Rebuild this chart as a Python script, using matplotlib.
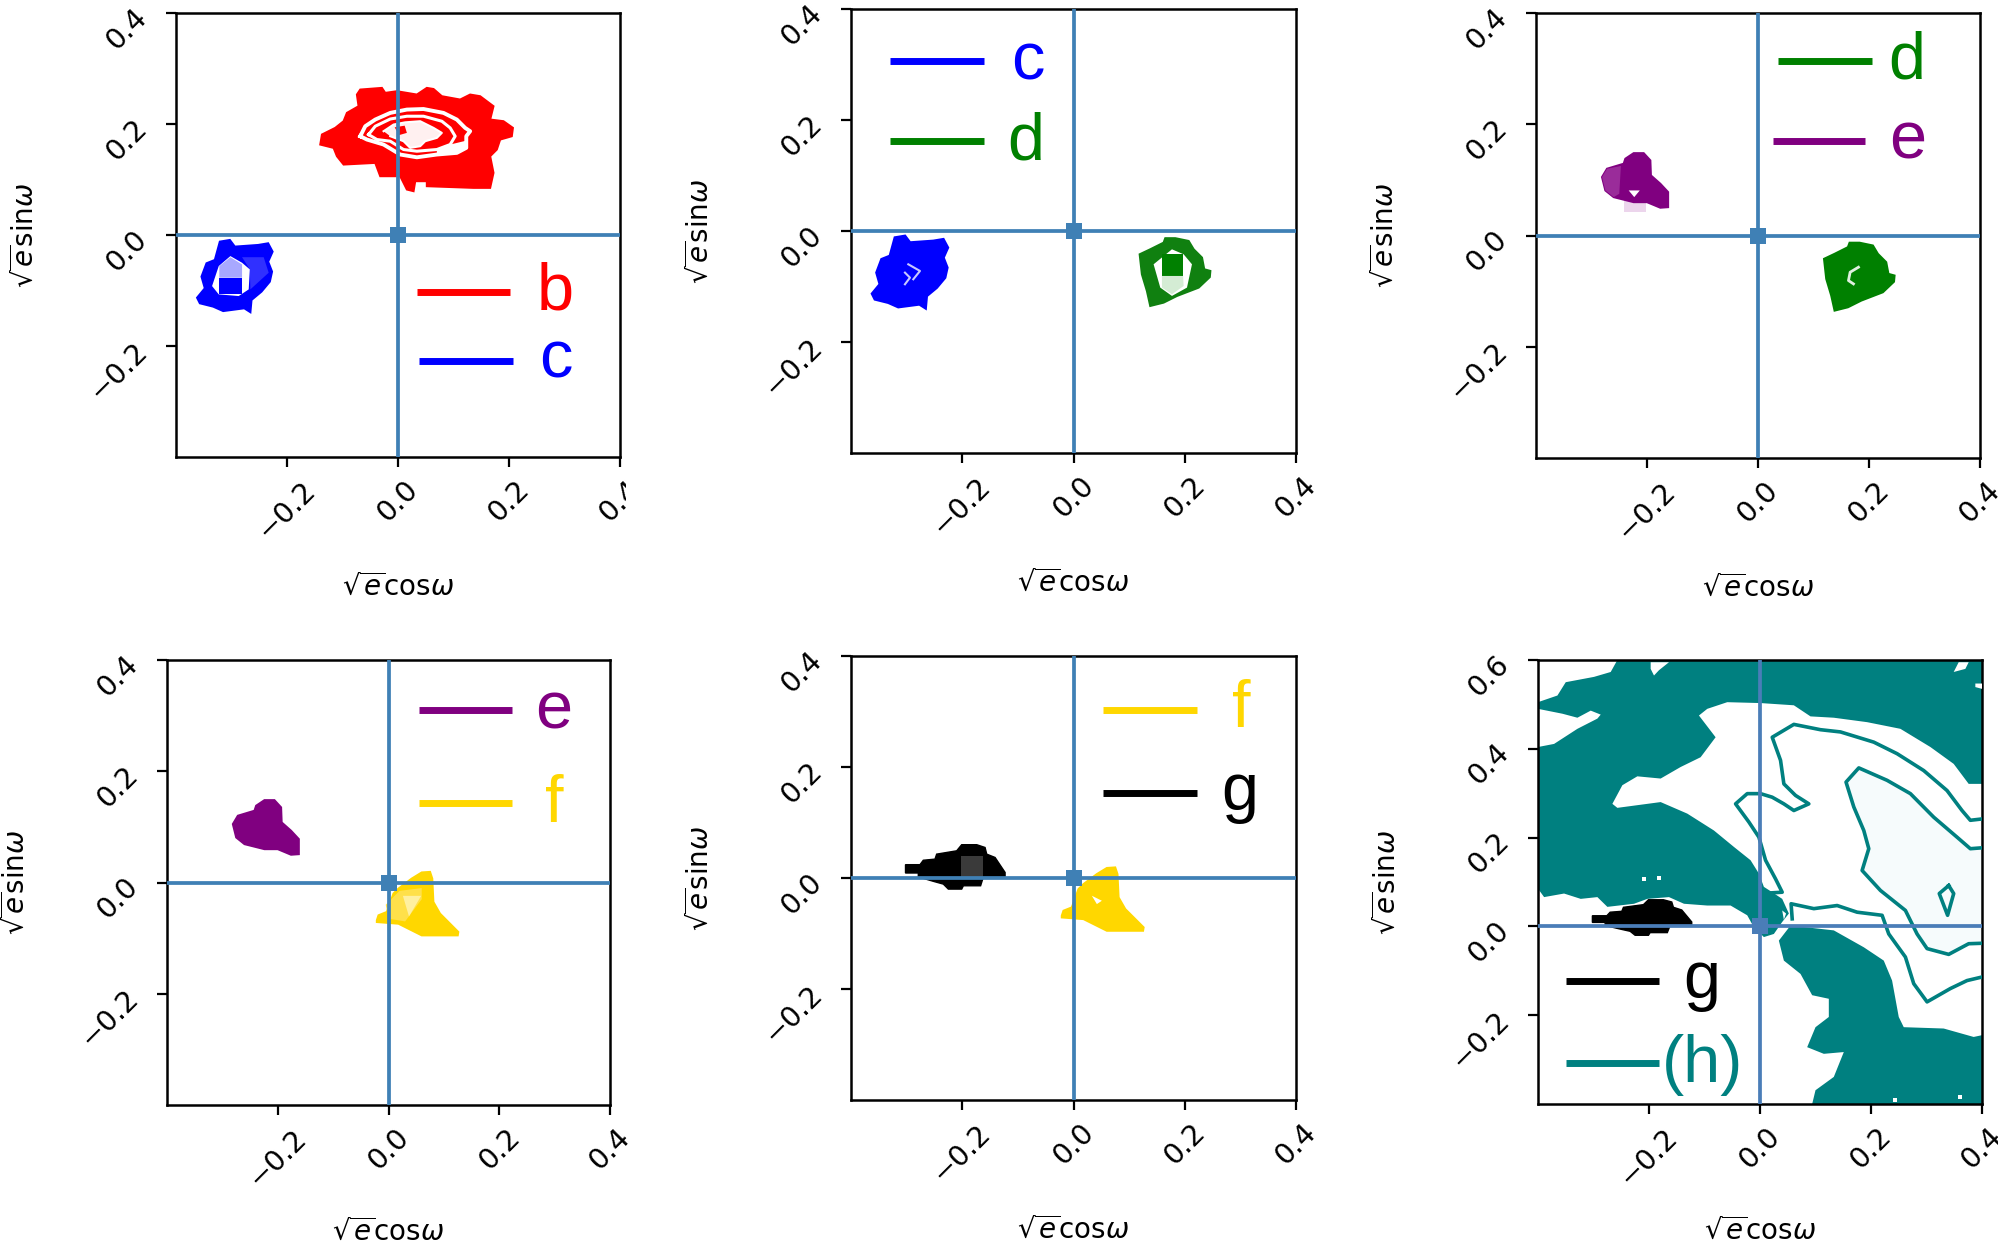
import matplotlib
matplotlib.use("Agg")
import matplotlib.pyplot as plt
from matplotlib.transforms import ScaledTranslation, Bbox
import numpy as np

# outlines of the posterior clouds (sqrt(e)cos w, sqrt(e)sin w)
b_cloud = np.array([(-0.140,0.163),(-0.137,0.181),(-0.113,0.193),(-0.098,0.205),(-0.092,0.220),(-0.071,0.232),
    (-0.074,0.253),(-0.068,0.262),(-0.029,0.265),(-0.023,0.256),(-0.002,0.259),(0.034,0.253),(0.052,0.265),
    (0.064,0.263),(0.079,0.250),(0.112,0.244),(0.130,0.253),(0.148,0.250),(0.172,0.232),(0.166,0.208),
    (0.190,0.205),(0.207,0.193),(0.205,0.178),(0.184,0.172),(0.178,0.154),(0.166,0.142),(0.172,0.112),
    (0.166,0.085),(0.136,0.085),(0.052,0.088),(0.052,0.097),(0.031,0.097),(0.028,0.079),(0.016,0.082),
    (0.004,0.106),(-0.032,0.106),(-0.041,0.130),(-0.098,0.127),(-0.110,0.142),(-0.116,0.157)])
b_ring1 = np.array([(-0.068,0.178),(-0.059,0.196),(-0.041,0.208),(-0.014,0.220),(0.016,0.226),(0.046,0.227),
    (0.082,0.220),(0.106,0.208),(0.121,0.193),(0.130,0.187),(0.123,0.178),(0.123,0.157),(0.106,0.148),
    (0.070,0.145),(0.034,0.140),(0.004,0.145),(-0.026,0.163),(-0.056,0.172),(-0.068,0.178)])
b_ring2 = np.array([(-0.053,0.181),(-0.041,0.196),(-0.014,0.209),(0.016,0.214),(0.046,0.214),(0.079,0.205),
    (0.094,0.193),(0.103,0.178),(0.094,0.163),(0.070,0.154),(0.034,0.151),(0.010,0.154),(-0.014,0.169),
    (-0.038,0.172),(-0.053,0.181)])
b_wedge = np.array([(0.123,0.170),(0.123,0.157),(0.106,0.148),(0.070,0.145),(0.070,0.154),(0.094,0.163)])
b_core = np.array([(-0.026,0.187),(-0.008,0.199),(0.013,0.203),(0.040,0.205),(0.064,0.193),(0.079,0.184),
    (0.070,0.175),(0.049,0.169),(0.040,0.160),(0.022,0.157),(0.010,0.169),(-0.014,0.178)])
b_spot = np.array([(-0.006,0.194),(0.012,0.197),(0.016,0.184),(0.002,0.180)])

c_cloud = np.array([(-0.362,-0.113),(-0.348,-0.096),(-0.354,-0.075),(-0.345,-0.051),(-0.330,-0.045),
    (-0.321,-0.012),(-0.303,-0.009),(-0.294,-0.021),(-0.252,-0.018),(-0.234,-0.015),(-0.226,-0.030),
    (-0.234,-0.048),(-0.227,-0.066),(-0.231,-0.084),(-0.246,-0.102),(-0.264,-0.117),(-0.266,-0.139),
    (-0.277,-0.132),(-0.315,-0.137),(-0.333,-0.129),(-0.357,-0.123)])
c_hex = np.array([(-0.302,-0.038),(-0.281,-0.050),(-0.267,-0.062),(-0.269,-0.098),(-0.287,-0.110),
    (-0.323,-0.107),(-0.335,-0.092),(-0.323,-0.056)])
c_pale = np.array([(-0.302,-0.040),(-0.281,-0.053),(-0.281,-0.077),(-0.322,-0.077),(-0.322,-0.056)])
c_solid = np.array([(-0.322,-0.077),(-0.281,-0.077),(-0.281,-0.107),(-0.322,-0.107)])
c_light = np.array([(-0.281,-0.040),(-0.242,-0.040),(-0.233,-0.068),(-0.266,-0.098),(-0.267,-0.062)])
c_mark1 = np.array([(-0.297,-0.060),(-0.276,-0.072),(-0.288,-0.087)])
c_mark2 = np.array([(-0.303,-0.075),(-0.294,-0.084),(-0.303,-0.096)])

d_cloud = np.array([(0.119,-0.042),(0.138,-0.033),(0.162,-0.021),(0.165,-0.013),(0.183,-0.013),(0.207,-0.018),
    (0.216,-0.033),(0.231,-0.048),(0.235,-0.069),(0.246,-0.072),(0.245,-0.083),(0.225,-0.102),(0.186,-0.117),
    (0.162,-0.129),(0.138,-0.135),(0.132,-0.108),(0.123,-0.078)])
d_shield = np.array([(0.177,-0.033),(0.198,-0.042),(0.213,-0.060),(0.204,-0.102),(0.177,-0.117),(0.156,-0.102),(0.144,-0.060)])
d_solid = np.array([(0.159,-0.042),(0.197,-0.042),(0.197,-0.081),(0.159,-0.081)])
d_pale = np.array([(0.159,-0.081),(0.197,-0.081),(0.198,-0.099),(0.177,-0.114),(0.159,-0.102)])
d_mark = np.array([(0.181,-0.057),(0.166,-0.066),(0.163,-0.081),(0.172,-0.087)])

e_cloud = np.array([(-0.281,0.105),(-0.272,0.120),(-0.242,0.129),(-0.239,0.138),(-0.224,0.148),(-0.206,0.148),
    (-0.194,0.135),(-0.193,0.108),(-0.176,0.093),(-0.162,0.078),(-0.162,0.051),(-0.176,0.050),(-0.200,0.060),
    (-0.224,0.060),(-0.260,0.069),(-0.275,0.081)])
e_light = np.array([(-0.281,0.105),(-0.272,0.120),(-0.247,0.125),(-0.250,0.075),(-0.260,0.069),(-0.275,0.081)])
e_pale = np.array([(-0.241,0.063),(-0.202,0.063),(-0.202,0.042),(-0.241,0.042)])
e_hole = np.array([(-0.233,0.081),(-0.213,0.081),(-0.223,0.069)])

f_cloud = np.array([(-0.021,-0.068),(-0.018,-0.059),(-0.003,-0.053),(0.009,-0.020),(0.018,-0.011),(0.042,0.007),
    (0.060,0.018),(0.075,0.019),(0.079,0.007),(0.081,-0.035),(0.093,-0.056),(0.114,-0.077),(0.126,-0.089),
    (0.125,-0.095),(0.060,-0.095),(0.036,-0.083),(0.018,-0.074),(-0.021,-0.071)])
f_light = np.array([(-0.005,-0.040),(0.020,-0.015),(0.060,-0.010),(0.060,-0.030),(0.030,-0.070),(0.000,-0.065)])
f_tri = np.array([(0.026,-0.024),(0.059,-0.024),(0.037,-0.061)])
f_hole = np.array([(0.033,-0.032),(0.051,-0.041),(0.042,-0.047)])

g_cloud = np.array([(-0.302,0.024),(-0.276,0.024),(-0.270,0.032),(-0.249,0.034),(-0.246,0.043),(-0.210,0.049),
    (-0.201,0.060),(-0.174,0.060),(-0.159,0.055),(-0.156,0.043),(-0.141,0.037),(-0.123,0.010),(-0.123,0.002),
    (-0.162,0.002),(-0.167,-0.014),(-0.198,-0.014),(-0.201,-0.020),(-0.225,-0.020),(-0.234,-0.011),
    (-0.252,-0.006),(-0.279,0.002),(-0.279,0.009),(-0.302,0.009)])
g_square = np.array([(-0.202,0.040),(-0.163,0.040),(-0.163,0.002),(-0.202,0.002)])

h_upper = np.array([(-0.257,0.60),(0.40,0.60),(0.40,0.321),(0.376,0.321),(0.349,0.366),(0.307,0.404),(0.253,0.445),
    (0.193,0.460),(0.133,0.470),(0.091,0.473),(0.061,0.498),(0.001,0.503),(-0.059,0.505),(-0.095,0.490),
    (-0.110,0.475),(-0.080,0.426),(-0.107,0.381),(-0.143,0.359),(-0.179,0.333),(-0.221,0.338),(-0.248,0.318),
    (-0.266,0.276),(-0.257,0.267),(-0.179,0.280),(-0.131,0.254),(-0.083,0.216),(-0.047,0.179),(-0.017,0.149),
    (-0.002,0.119),(0.007,0.089),(0.022,0.077),(0.040,0.062),(0.052,0.029),(0.040,0.010),(0.025,-0.017),
    (0.007,-0.024),(-0.011,-0.002),(-0.023,0.025),(-0.053,0.047),(-0.095,0.047),(-0.137,0.051),(-0.164,0.066),
    (-0.203,0.062),(-0.227,0.051),(-0.275,0.044),(-0.293,0.066),(-0.323,0.062),(-0.353,0.074),(-0.389,0.066),
    (-0.40,0.085),(-0.40,0.404),(-0.371,0.411),(-0.329,0.445),(-0.293,0.468),(-0.287,0.477),(-0.305,0.486),
    (-0.329,0.470),(-0.356,0.479),(-0.40,0.490),(-0.40,0.505),(-0.365,0.520),(-0.350,0.550),(-0.299,0.562),
    (-0.269,0.573)])
h_lower = np.array([(0.055,0.002),(0.133,-0.009),(0.187,-0.047),(0.223,-0.077),(0.238,-0.122),(0.250,-0.204),
    (0.259,-0.227),(0.331,-0.230),(0.385,-0.249),(0.40,-0.245),(0.40,-0.40),(0.094,-0.40),(0.100,-0.369),
    (0.133,-0.339),(0.151,-0.283),(0.115,-0.287),(0.085,-0.272),(0.100,-0.227),(0.124,-0.204),(0.124,-0.163),
    (0.094,-0.155),(0.073,-0.107),(0.043,-0.077),(0.034,-0.032)])
h_island1 = np.array([(-0.197,0.595),(-0.164,0.595),(-0.182,0.577),(-0.191,0.565),(-0.197,0.580)])
h_island2 = np.array([(0.358,0.595),(0.376,0.595),(0.370,0.580),(0.349,0.573)])
h_island3 = np.array([(0.388,0.547),(0.40,0.547),(0.40,0.535),(0.388,0.539)])
h_hole = np.array([(0.040,0.036),(0.047,0.029),(0.043,0.015)])
h_specks = np.array([(-0.209,0.106),(-0.182,0.110),(0.243,-0.390),(0.360,-0.385)])
h_line1a = np.array([(0.40,0.242),(0.379,0.239),(0.364,0.261),(0.337,0.306),(0.295,0.351),(0.247,0.389),(0.205,0.415),
    (0.145,0.438),(0.109,0.443),(0.061,0.455),(0.022,0.426),(0.037,0.374),(0.043,0.321),(0.064,0.295),(0.088,0.276),
    (0.061,0.261),(0.043,0.276),(0.022,0.291),(0.001,0.299),(-0.023,0.299),(-0.044,0.276),(-0.020,0.235),
    (-0.002,0.201),(0.010,0.149),(0.028,0.107),(0.040,0.077),(0.013,0.075)])
h_line1b = np.array([(0.058,0.017),(0.056,0.051),(0.097,0.040),(0.139,0.047),(0.175,0.032),(0.220,0.025),(0.232,-0.017),
    (0.262,-0.069),(0.277,-0.129),(0.301,-0.170),(0.343,-0.140),(0.373,-0.122),(0.40,-0.114)])
h_line2 = np.array([(0.40,0.177),(0.379,0.175),(0.355,0.201),(0.313,0.246),(0.271,0.299),(0.229,0.329),(0.178,0.357),
    (0.155,0.325),(0.169,0.269),(0.187,0.216),(0.196,0.175),(0.184,0.126),(0.217,0.081),(0.262,0.036),(0.283,-0.017),
    (0.301,-0.050),(0.340,-0.063),(0.376,-0.039),(0.40,-0.038)])
h_tear = np.array([(0.340,0.092),(0.349,0.074),(0.338,0.025),(0.323,0.074),(0.340,0.092)])

ticks = [-0.2, 0.0, 0.2, 0.4]
ticks_h = [-0.2, 0.0, 0.2, 0.4, 0.6]
tick_labels = ['\u22120.2', '0.0', '0.2', '0.4']
tick_labels_h = ['\u22120.2', '0.0', '0.2', '0.4', '0.6']

red = '#ff0000'
blue = '#0000ff'
green = '#008000'
purple = '#800080'
gold = '#ffd700'
black = '#000000'
teal = '#008080'
cross = '#3f80b5'

W, H = 1998, 1245
fig = plt.figure(figsize=(W / 100, H / 100), dpi=100)

def make_axes(left, right, top, bottom, ymax=0.4, yticks=ticks, ylabels=tick_labels, xlab_y=-0.293):
    ax = fig.add_axes([left / W, 1 - bottom / H, (right - left) / W, (bottom - top) / H])
    ax.set_xlim(-0.4, 0.4)
    ax.set_ylim(-0.4, ymax)
    ax.set_xticks(ticks)
    ax.set_xticklabels(tick_labels, rotation=45)
    ax.set_yticks(yticks)
    ax.set_yticklabels(ylabels, rotation=45, va='top')
    ax.tick_params(length=7.2, width=1.6, labelsize=20.5, pad=6)
    ax.tick_params(axis='y', pad=9.5)
    # the rotated y labels sit a little below their ticks
    up = ScaledTranslation(0, 0.10, fig.dpi_scale_trans)
    for lab in ax.get_yticklabels():
        lab.set_transform(lab.get_transform() + up)
    for s in ax.spines.values():
        s.set_linewidth(1.8)
    ax.set_xlabel(r'$\sqrt{e}\mathrm{cos}\omega$', fontsize=20, va='center')
    ax.set_ylabel(r'$\sqrt{e}\mathrm{sin}\omega$', fontsize=20, va='center')
    ax.xaxis.set_label_coords(0.5, xlab_y)
    ax.yaxis.set_label_coords(-0.34, 0.5)
    return ax

# edge drawn in the same colour so the clouds keep their bumpy width
def blob(ax, pts, color, z=2, edge=0):
    ax.fill(pts[:, 0], pts[:, 1], facecolor=color, edgecolor=color, lw=edge, zorder=z)

def cross_hair(ax, color=cross):
    ax.axhline(0, color=color, lw=2.7, zorder=6)
    ax.axvline(0, color=color, lw=2.7, zorder=6)
    ax.plot([0], [0], 's', color=color, ms=11.5, mew=0, zorder=7)

def key(ax, x0, x1, y, text, tx, ty, color):
    ax.plot([x0, x1], [y, y], color=color, lw=5, transform=ax.transAxes, solid_capstyle='butt', zorder=8)
    ax.text(tx, ty, text, color=color, fontsize=48, family='Liberation Sans', ha='center', va='baseline',
            transform=ax.transAxes, zorder=8)

# b and c
ax = make_axes(176, 620, 13, 457)
blob(ax, b_cloud, red, edge=1.5)
ax.plot(b_ring1[:, 0], b_ring1[:, 1], color='white', lw=2.8, zorder=3)
ax.plot(b_ring2[:, 0], b_ring2[:, 1], color='white', lw=2.2, zorder=3)
blob(ax, b_wedge, 'white', 3)
blob(ax, b_core, '#fff0f0', 3)
ax.plot(b_core[:, 0], b_core[:, 1], color='white', lw=1.5, zorder=3)
blob(ax, b_spot, red, 4)
blob(ax, c_cloud, blue, edge=1.5)
blob(ax, c_light, '#3030ff', 3)
blob(ax, c_hex, 'white', 3)
blob(ax, c_pale, '#a8a8ff', 4)
blob(ax, c_solid, blue, 4)
cross_hair(ax)
key(ax, 0.542, 0.752, 0.372, 'b', 0.854, 0.332, red)
key(ax, 0.548, 0.758, 0.217, 'c', 0.856, 0.178, blue)
for lab in ax.get_xticklabels()[-1:]:
    lab.set_clip_box(Bbox([[0, 0], [626, H]]))
    lab.set_clip_on(True)

# c and d
ax = make_axes(851, 1296, 9, 453)
blob(ax, c_cloud, blue, edge=2)
ax.plot(c_mark1[:, 0], c_mark1[:, 1], color='#c8c8ff', lw=1.5, zorder=3)
ax.plot(c_mark2[:, 0], c_mark2[:, 1], color='#c8c8ff', lw=1.5, zorder=3)
blob(ax, d_cloud, '#108010', edge=1.5)
blob(ax, d_shield, 'white', 3)
blob(ax, d_solid, green, 4)
blob(ax, d_pale, '#d4ecd4', 4)
cross_hair(ax)
key(ax, 0.088, 0.298, 0.883, 'c', 0.397, 0.842, blue)
key(ax, 0.088, 0.298, 0.703, 'd', 0.393, 0.662, green)

# d and e
ax = make_axes(1536, 1980, 13, 458)
blob(ax, d_cloud, green, edge=1.5)
ax.plot(d_mark[:, 0], d_mark[:, 1], color='#e0f0e0', lw=2, zorder=3)
blob(ax, e_pale, '#ecd5ec', 1)
blob(ax, e_cloud, purple, edge=1.5)
blob(ax, e_light, '#9a2c9a', 3)
blob(ax, e_hole, 'white', 4)
cross_hair(ax)
key(ax, 0.546, 0.757, 0.893, 'd', 0.836, 0.852, green)
key(ax, 0.533, 0.742, 0.713, 'e', 0.838, 0.672, purple)

# e and f
ax = make_axes(167, 610, 660, 1105, xlab_y=-0.285)
blob(ax, e_cloud, purple, edge=1.5)
blob(ax, f_cloud, gold, edge=1.5)
blob(ax, f_light, '#ffe04a', 3)
blob(ax, f_tri, '#fff0a0', 4)
cross_hair(ax)
key(ax, 0.569, 0.779, 0.888, 'e', 0.874, 0.845, purple)
key(ax, 0.569, 0.779, 0.679, 'f', 0.874, 0.636, gold)

# f and g
ax = make_axes(851, 1296, 656, 1100)
blob(ax, g_cloud, black, edge=1)
blob(ax, g_square, '#3a3a3a', 3)
blob(ax, f_cloud, gold, edge=1.5)
blob(ax, f_hole, 'white', 3)
cross_hair(ax)
key(ax, 0.567, 0.777, 0.878, 'f', 0.876, 0.839, gold)
key(ax, 0.567, 0.777, 0.692, 'g', 0.873, 0.653, black)

# g and (h)
ax = make_axes(1538, 1982, 660, 1104, 0.6, ticks_h, tick_labels_h, xlab_y=-0.285)
blob(ax, h_upper, teal)
blob(ax, h_lower, teal)
blob(ax, h_island1, 'white', 3)
blob(ax, h_island2, 'white', 3)
blob(ax, h_island3, 'white', 3)
blob(ax, h_hole, 'white', 3)
ax.scatter(h_specks[:, 0], h_specks[:, 1], s=8, color='white', marker='s', lw=0, zorder=3)
ax.fill(h_line2[:, 0], h_line2[:, 1], color='#f6fbfc', lw=0, zorder=1)
for line in (h_line1a, h_line1b, h_line2, h_tear):
    ax.plot(line[:, 0], line[:, 1], color=teal, lw=2.6, zorder=3)
blob(ax, g_cloud, black, 4, edge=1)
cross_hair(ax, '#4a7db8')
key(ax, 0.063, 0.273, 0.277, 'g', 0.369, 0.238, black)
key(ax, 0.063, 0.273, 0.092, '(h)', 0.371, 0.050, teal)

plt.savefig('out.png', dpi=100)
